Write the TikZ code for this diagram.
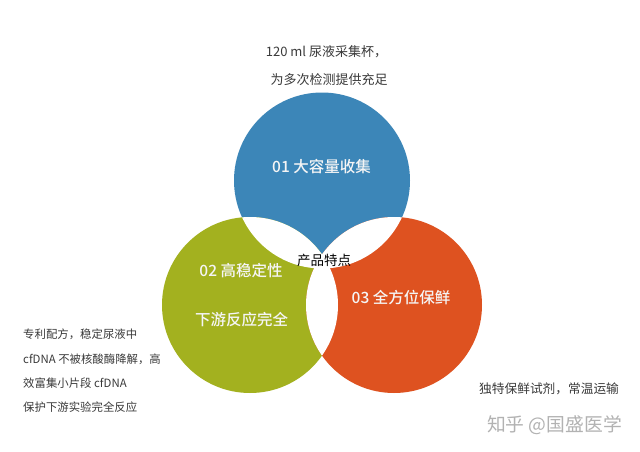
\documentclass[tikz,border=0pt]{standalone}
\usepackage{fontspec}
\setmainfont{Noto Sans CJK SC}
\newfontfamily\titlefont{Noto Sans CJK SC Medium}
\definecolor{cblue}{HTML}{3C86B8}
\definecolor{cgreen}{HTML}{A3B11F}
\definecolor{corange}{HTML}{DE5220}
\definecolor{ctext}{HTML}{3A3A3A}
\tikzset{
  note/.style={font=\fontsize{11.4}{12}\selectfont,text=ctext,inner sep=0pt,anchor=west},
  notec/.style={font=\fontsize{13}{13}\selectfont,text=ctext,inner sep=0pt},
  title/.style={font=\titlefont\fontsize{15.5}{16}\selectfont,text=white!96!black,inner sep=0pt},
  mark text/.style={font=\fontsize{18.8}{19}\selectfont,text=black!30,inner sep=0pt}
}
\def\rad{88}
\begin{document}
\begin{tikzpicture}[x=1pt,y=-1pt]
\useasboundingbox (0,0) rectangle (640,452);
\fill[white] (0,0) rectangle (640,452);
\fill[cblue] (322,180.5) circle[radius=\rad];
\fill[cgreen] (250,305) circle[radius=\rad];
\fill[corange] (394,305) circle[radius=\rad];
\begin{scope}
  \clip (322,180.5) circle[radius=\rad];
  \fill[white] (250,305) circle[radius=\rad];
  \fill[white] (394,305) circle[radius=\rad];
\end{scope}
\begin{scope}
  \clip (250,305) circle[radius=\rad];
  \fill[white] (394,305) circle[radius=\rad];
\end{scope}
\node[notec] (top1) at (326.5,52) {120 ml 尿液采集杯，};
\node[notec] (top2) at (329,80) {为多次检测提供充足};
\node[title] (t1) at (321.5,167) {01 大容量收集};
\node[title] (t2a) at (241,270.5) {02 高稳定性};
\node[title] (t2b) at (241.5,320) {下游反应完全};
\node[title] (t3) at (401,298) {03 全方位保鲜};
\node[font=\fontsize{13.5}{14}\selectfont,text=black,inner sep=0pt] (center) at (324,260) {产品特点};
\node[note] (l1) at (23,334) {专利配方，稳定尿液中};
\node[note] (l2) at (23,359) {cfDNA 不被核酸酶降解，高};
\node[note] (l3) at (23,383) {效富集小片段 cfDNA};
\node[note] (l4) at (23,407) {保护下游实验完全反应};
\node[note,font=\fontsize{12.7}{13}\selectfont] (r1) at (479,389) {独特保鲜试剂，常温运输};
\node[mark text] (wm) at (554.5,425) {知乎 @国盛医学};
\end{tikzpicture}
\end{document}
